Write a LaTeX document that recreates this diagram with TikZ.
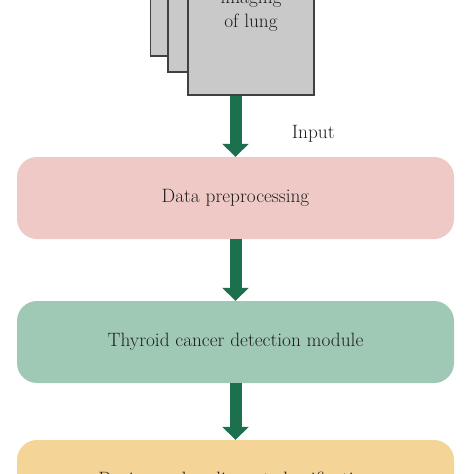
\documentclass[tikz,border=0pt]{standalone}
\usetikzlibrary{arrows.meta}
\definecolor{scangray}{RGB}{201,201,201}
\definecolor{prepred}{RGB}{239,201,198}
\definecolor{detgreen}{RGB}{160,201,181}
\definecolor{clsorange}{RGB}{245,212,152}
\definecolor{flowgreen}{RGB}{29,112,78}
\tikzset{
    labeltext/.style={font=\fontsize{19.3}{24}\selectfont, text=black!88},
    scan/.style={draw=black!75, line width=1.4pt, fill=scangray, minimum size=126pt, inner sep=0pt},
    stage/.style={rounded corners=20pt, minimum width=437pt, minimum height=82pt, labeltext},
    flow/.style={draw=flowgreen, line width=12pt, -{Triangle[width=26pt,length=13pt]}}
}
\begin{document}
\begin{tikzpicture}[x=1pt, y=-1pt]

    % Frame of the figure
    \useasboundingbox (0,0) rectangle (474,474);
    \clip (0,0) rectangle (474,474);

    % 1. Stack of lung images
    \node[scan] (scan1) at (213.5,-7) {};
    \node[scan] (scan2) at (231,9) {};
    \node[scan] (scan3) at (251,32) {};
    \node[labeltext, align=center, anchor=south] (scantext) at (251,35) {imaging\\of lung};

    % 2. Processing stages
    \node[stage, fill=prepred] (prep) at (235.5,198) {Data preprocessing};
    \node[stage, fill=detgreen] (detect) at (235.5,342) {Thyroid cancer detection module};
    \node[stage, fill=clsorange] (classify) at (235.5,481) {Benign and malignant classification};

    % 3. Flow arrows
    \draw[flow] (prep.north |- scan3.south) -- (prep.north)
        node[midway, right, xshift=47pt, yshift=-8pt, labeltext] (input) {Input};
    \draw[flow] (prep.south) -- (detect.north);
    \draw[flow] (detect.south) -- (classify.north);

\end{tikzpicture}
\end{document}
